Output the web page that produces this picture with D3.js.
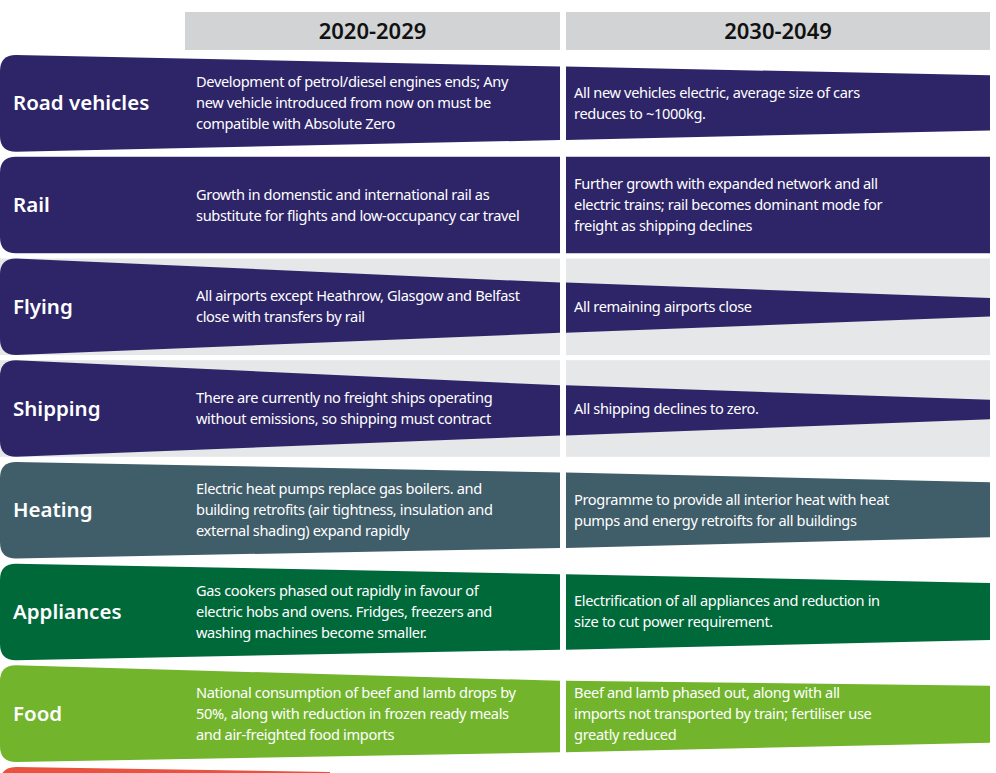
<!DOCTYPE html>
<html lang="en">
<head>
	<meta charset="utf-8">
	<title>Absolute Zero timeline</title>
	<script src="https://d3js.org/d3.v7.min.js"></script>
	<style>
		body { margin: 0; background: #fff; font-family: "Noto Sans", "Open Sans", sans-serif; }
		svg { display: block; }
	</style>
</head>
<body>
	<script>
		// sector rows and text
		var sectors = ["Road vehicles", "Rail", "Flying", "Shipping", "Heating", "Appliances", "Food"];
		var periods = ["2020-2029", "2030-2049"];
		var text2029 = [
			["Development of petrol/diesel engines ends; Any", "new vehicle introduced from now on must be", "compatible with Absolute Zero"],
			["Growth in domenstic and international rail as", "substitute for flights and low-occupancy car travel"],
			["All airports except Heathrow, Glasgow and Belfast", "close with transfers by rail"],
			["There are currently no freight ships operating", "without emissions, so shipping must contract"],
			["Electric heat pumps replace gas boilers. and", "building retrofits (air tightness, insulation and", "external shading) expand rapidly"],
			["Gas cookers phased out rapidly in favour of", "electric hobs and ovens. Fridges, freezers and", "washing machines become smaller."],
			["National consumption of beef and lamb drops by", "50%, along with reduction in frozen ready meals", "and air-freighted food imports"]
		];
		var text2049 = [
			["All new vehicles electric, average size of cars", "reduces to ~1000kg."],
			["Further growth with expanded network and all", "electric trains; rail becomes dominant mode for", "freight as shipping declines"],
			["All remaining airports close"],
			["All shipping declines to zero."],
			["Programme to provide all interior heat with heat", "pumps and energy retroifts for all buildings"],
			["Electrification of all appliances and reduction in", "size to cut power requirement."],
			["Beef and lamb phased out, along with all", "imports not transported by train; fertiliser use", "greatly reduced"]
		];
		// how much of the band is cut away (fraction of row height, top / bottom) at end of 2029 and end of 2049
		var cutTop2029 = [0.12, 0, 0.25, 0.26, 0.11, 0.11, 0.16];
		var cutBot2029 = [0.12, 0, 0.23, 0.22, 0.11, 0.11, 0.10];
		var cutTop2049 = [0.21, 0, 0.41, 0.41, 0.21, 0.20, 0.21];
		var cutBot2049 = [0.22, 0, 0.40, 0.39, 0.22, 0.21, 0.20];
		var greyRows = ["Flying", "Shipping"];

		var colors = {
			"Road vehicles": "#2e2569", "Rail": "#2e2569", "Flying": "#2e2569", "Shipping": "#2e2569",
			"Heating": "#405d6a", "Appliances": "#00693a", "Food": "#72b52d"
		};

		var w = 996, h = 773;
		var svg = d3.select("body").append("svg").attr("width", w).attr("height", h);

		var y = d3.scaleBand().domain(sectors).range([55, 762]).paddingInner(0.05);
		var x = d3.scaleOrdinal().domain(periods).range([[185, 560], [566, 990]]);
		var r = 16;

		// column headers
		periods.forEach(function (p) {
			var ex = x(p);
			svg.append("rect").attr("x", ex[0]).attr("y", 12).attr("width", ex[1] - ex[0]).attr("height", 38).attr("fill", "#d1d3d4");
			svg.append("text").attr("x", (ex[0] + ex[1]) / 2).attr("y", 39).attr("text-anchor", "middle")
				.attr("font-size", 22).attr("font-weight", 600).attr("fill", "#111").text(p);
		});

		sectors.forEach(function (s, i) {
			var t = y(s), b = t + y.bandwidth(), bh = y.bandwidth();
			var x1 = x(periods[0])[1], x2 = x(periods[1])[0], x3 = x(periods[1])[1];
			var t1 = t + cutTop2029[i] * bh, b1 = b - cutBot2029[i] * bh;
			var t2 = t + cutTop2049[i] * bh, b2 = b - cutBot2049[i] * bh;

			if (greyRows.indexOf(s) >= 0) {
				svg.append("rect").attr("x", 0).attr("y", t).attr("width", x1).attr("height", bh).attr("fill", "#e6e7e8");
				svg.append("rect").attr("x", x2).attr("y", t).attr("width", x3 - x2).attr("height", bh).attr("fill", "#e6e7e8");
			}

			// 2020s shape with rounded left end
			var p = d3.path();
			p.moveTo(r, t);
			p.lineTo(x1, t1);
			p.lineTo(x1, b1);
			p.lineTo(r, b);
			p.quadraticCurveTo(0, b, 0, b - r);
			p.lineTo(0, t + r);
			p.quadraticCurveTo(0, t, r, t);
			p.closePath();
			svg.append("path").attr("d", p.toString()).attr("fill", colors[s]);

			// 2030s tapering shape
			svg.append("path")
				.attr("d", d3.line()([[x2, t1], [x3, t2], [x3, b2], [x2, b1]]) + "Z")
				.attr("fill", colors[s]);

			var mid = (t + b) / 2;
			svg.append("text").attr("x", 13).attr("y", mid + 7).attr("fill", "#fff")
				.attr("font-size", 20.5).attr("font-weight", 600).text(s);

			[[text2029[i], 196], [text2049[i], 574]].forEach(function (d) {
				var lines = d[0], lh = 21;
				var y0 = mid - (lines.length - 1) * lh / 2 + 5;
				var tx = svg.append("text").attr("fill", "#fff").attr("font-size", 14.6)
					.attr("letter-spacing", -0.35);
				lines.forEach(function (l, k) {
					tx.append("tspan").attr("x", d[1]).attr("y", y0 + k * lh).text(l);
				});
			});
		});

		// start of next (cut off) row
		var q = d3.path();
		q.moveTo(r, 767);
		q.lineTo(330, 772);
		q.lineTo(330, 780);
		q.lineTo(0, 780);
		q.lineTo(0, 767 + r);
		q.quadraticCurveTo(0, 767, r, 767);
		svg.append("path").attr("d", q.toString()).attr("fill", "#e8523f");
	</script>
</body>
</html>
